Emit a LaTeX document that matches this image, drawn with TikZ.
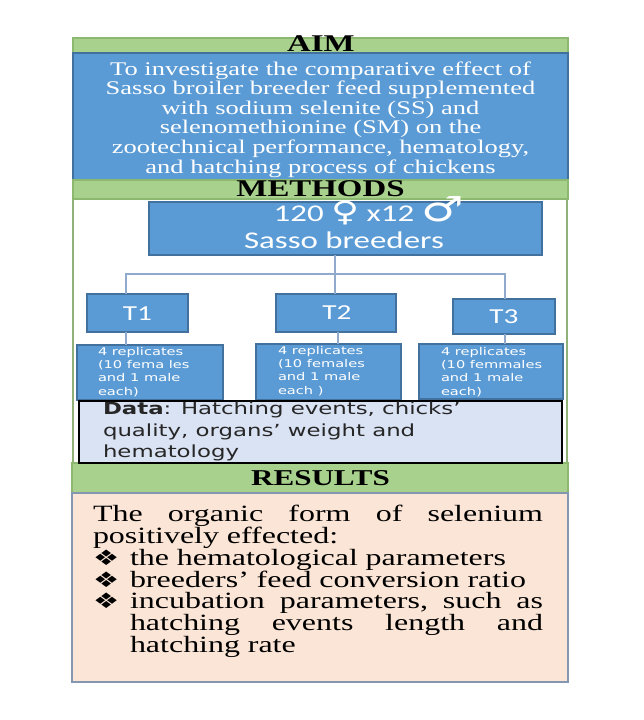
\documentclass[tikz,border=0pt]{standalone}
\usepackage{fontspec}
\setmainfont[FakeStretch=1.37]{Liberation Serif}
\newfontfamily\tnr[FakeStretch=1.37]{Liberation Serif}
\newfontfamily\calfont[FakeStretch=1.37]{Carlito}
\newfontfamily\dvs[FakeStretch=1.37]{DejaVu Sans}
\definecolor{grn}{HTML}{A9D18E}
\definecolor{grndk}{HTML}{8DB870}
\definecolor{blu}{HTML}{5B9BD5}
\definecolor{bludk}{HTML}{41719C}
\definecolor{peach}{HTML}{FBE5D6}
\definecolor{peachdk}{HTML}{8497B0}
\definecolor{datab}{HTML}{DAE3F3}
\definecolor{lnc}{HTML}{8FAACC}
\definecolor{txtdk}{HTML}{262626}
\newcommand\mkbox[7]{\node[#1,anchor=north west,minimum width={(#4-#2)*0.75pt},minimum height={(#5-#3)*0.75pt}] (#6) at (#2,#3) {#7};}
\newcommand\bul{\makebox[27.75pt][l]{\dvs\fontsize{16}{16}\selectfont ❖}}
\begin{document}
\begin{tikzpicture}[x=0.75pt,y=-0.75pt,
  every node/.style={inner sep=0pt,outer sep=0pt},
  greenbar/.style={draw=grndk,fill=grn,line width=0.8pt},
  bartext/.style={anchor=base,font=\tnr\bfseries\fontsize{17}{17}\selectfont,text=black},
  bluebox/.style={draw=bludk,fill=blu,line width=0.9pt},
  reptext/.style={anchor=north west,align=left,text=white,font=\dvs\fontsize{8}{10}\selectfont},
  ttext/.style={anchor=base,text=white,font=\calfont\fontsize{16}{16}\selectfont},
  conn/.style={draw=lnc,line width=1.4pt}]
\fill[white] (0,0) rectangle (643,720);
\path[use as bounding box] (0,0) rectangle (643,720);

% AIM
\mkbox{greenbar}{73}{38}{568}{53}{aimbar}{}
\mkbox{bluebox}{73}{53}{568}{180}{aimbox}{}
\node[bartext,font=\tnr\bfseries\fontsize{18}{18}\selectfont] (aimlbl) at (321,52) {AIM};
\node[anchor=north,align=center,text=white,font=\tnr\fontsize{14.5}{14.7}\selectfont] (aimtxt) at (320.5,61.5)
 {To investigate the comparative effect of\\
  Sasso broiler breeder feed supplemented\\
  with sodium selenite (SS) and\\
  selenomethionine (SM) on the\\
  zootechnical performance, hematology,\\
  and hatching process of chickens};

% METHODS
\mkbox{draw=grn!85!black,fill=white,line width=1.6pt}{73}{199}{567}{463}{mframe}{}
\mkbox{greenbar}{73}{180}{568}{199}{methbar}{}
\node[bartext,font=\tnr\bfseries\fontsize{18}{18}\selectfont] (methlbl) at (320.5,197) {METHODS};

\mkbox{bluebox}{149}{202}{542}{255}{sasso}{}
\node[anchor=base,text=white,font=\calfont\fontsize{18}{18}\selectfont] (sasso1) at (369,222)
 {120 {\dvs\fontsize{21}{21}\selectfont ♀} x12 {\dvs\fontsize{26}{26}\selectfont ♂}};
\node[anchor=base,text=white,font=\calfont\fontsize{18}{18}\selectfont] (sasso2) at (344,248) {Sasso breeders};

\mkbox{bluebox}{87}{294}{188}{332}{t1}{}
\mkbox{bluebox}{276}{294}{396}{332}{t2}{}
\mkbox{bluebox}{453}{299}{555}{334}{t3}{}
\node[ttext] (t1l) at (137.5,320) {T1};
\node[ttext] (t2l) at (337,319) {T2};
\node[ttext] (t3l) at (504,323) {T3};

\coordinate (hub) at (335,274);
\coordinate (j1) at (126,274);
\coordinate (j3) at (505,274);
\draw[conn] (sasso.south -| hub) -- (hub);
\draw[conn] (t1.north -| j1) -- (j1) -- (j3) -- (t3.north -| j3);
\draw[conn] (hub) -- (t2.north -| hub);

\mkbox{bluebox}{77}{345}{223}{400}{r1}{}
\mkbox{bluebox}{256}{344}{401}{400}{r2}{}
\mkbox{bluebox}{419}{344}{563}{399}{r3}{}
\draw[conn] (t1.south -| j1) -- (r1.north -| j1);
\draw[conn] (t2.south) ++(2,0) coordinate (k2) -- (r2.north -| k2);
\draw[conn] (t3.south -| j3) -- (r3.north -| j3);
\node[reptext] (r1t) at (98,347) {4 replicates\\(10 fema les\\and 1 male\\each)};
\node[reptext] (r2t) at (278,346) {4 replicates\\(10 females\\and 1 male\\each )};
\node[reptext] (r3t) at (441,347) {4 replicates\\(10 femmales\\and 1 male\\each)};

% RESULTS
\mkbox{greenbar}{72}{463}{568}{493}{resbar}{}
\node[bartext] (reslbl) at (320.5,485) {RESULTS};
\mkbox{draw=black,fill=datab,line width=1.2pt}{79}{401}{562}{463}{data}{}
\node[anchor=north west,align=left,text=txtdk,font=\dvs\fontsize{12.5}{16.1}\selectfont] (datat) at (103,402)
 {\textbf{Data}: Hatching events, chicks’\\quality, organs’ weight and\\hematology};

\mkbox{draw=peachdk,fill=peach,line width=1pt}{72}{493}{568}{682}{resbox}{}
\node[anchor=north west,align=left,text width=337.5pt,text=black,font=\tnr\fontsize{17.5}{16.4}\selectfont] (restxt) at (93,505)
 {\makebox[337.5pt][l]{The\hfill organic\hfill form\hfill of\hfill selenium}\\
  positively effected:\\
  \bul the hematological parameters\\
  \bul breeders’ feed conversion ratio\\
  \bul\makebox[309.75pt][l]{incubation\hfill parameters,\hfill such\hfill as}\\
  \hspace*{27.75pt}\makebox[309.75pt][l]{hatching\hfill events\hfill length\hfill and}\\
  \hspace*{27.75pt}hatching rate};
\end{tikzpicture}
\end{document}
